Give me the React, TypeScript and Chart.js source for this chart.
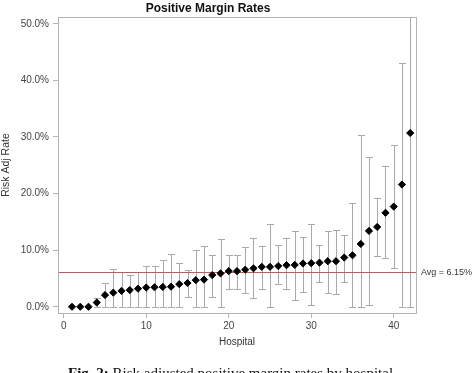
import React, { useEffect, useRef } from 'react';
import { Chart, registerables } from 'chart.js';

Chart.register(...registerables);

// ---- Data (percent) ----
const hospitals = [
  1, 2, 3, 4, 5, 6, 7, 8, 9, 10, 11, 12, 13, 14, 15, 16, 17, 18, 19, 20, 21,
  22, 23, 24, 25, 26, 27, 28, 29, 30, 31, 32, 33, 34, 35, 36, 37, 38, 39, 40, 41, 42,
];
const rates = [
  0, 0, 0, 0.75, 2.07, 2.5, 2.8, 2.95, 3.2, 3.4, 3.45, 3.5, 3.55, 4.0, 4.2, 4.7, 4.8,
  5.6, 5.9, 6.3, 6.3, 6.55, 6.8, 7.05, 7.05, 7.2, 7.35, 7.4, 7.65, 7.7, 7.8, 8.05,
  8.05, 8.7, 9.1, 11.1, 13.4, 14.1, 16.6, 17.7, 21.6, 30.7,
];
const lowerCI = [
  0, 0, 0, 0, 0, 0, 0, 0, 0, 0, 0, 0, 0, 0, 1.65, 0, 0, 1.7, 0, 3.2, 3.2, 2.5, 1.5,
  3.2, 0, 4.1, 3.1, 1.2, 2.6, 0.4, 4.3, 2.5, 2.2, 4.4, 0, 0, 0.4, 9.0, 8.6, 6.8, 0, 0,
];
const upperCI = [
  0, 0, 0, 1.6, 4.2, 6.7, 6.1, 5.7, 6.1, 7.2, 7.2, 8.25, 9.3, 7.8, 6.5, 10.0, 10.8,
  9.1, 12.0, 9.1, 9.1, 10.6, 12.1, 10.7, 14.6, 10.9, 12.1, 13.4, 12.4, 14.7, 10.9,
  13.4, 13.6, 12.7, 18.4, 30.3, 26.4, 19.3, 24.9, 28.6, 43.1, 60,
];
const avgRate = 6.15;
const avgLabel = 'Avg = 6.15%';
const xTicks = [0, 10, 20, 30, 40];
const yTicks = [0, 10, 20, 30, 40, 50];

const FONT = "'Liberation Sans', Arial, sans-serif";

const overlayPlugin = {
  id: 'overlay',
  beforeDatasetsDraw(chart: any) {
    const { ctx, chartArea, scales } = chart;
    const x = scales.x;
    const y = scales.y;
    ctx.save();
    ctx.beginPath();
    ctx.rect(chartArea.left, chartArea.top, chartArea.right - chartArea.left, chartArea.bottom - chartArea.top);
    ctx.clip();
    ctx.strokeStyle = '#a9a9a9';
    ctx.lineWidth = 1;
    hospitals.forEach((h, i) => {
      if (upperCI[i] === lowerCI[i]) return;
      const px = Math.round(x.getPixelForValue(h)) + 0.5;
      const yl = Math.round(y.getPixelForValue(lowerCI[i])) + 0.5;
      const yu = Math.round(y.getPixelForValue(upperCI[i])) + 0.5;
      ctx.beginPath();
      ctx.moveTo(px, yl);
      ctx.lineTo(px, yu);
      ctx.moveTo(px - 3.5, yl);
      ctx.lineTo(px + 3.5, yl);
      ctx.moveTo(px - 3.5, yu);
      ctx.lineTo(px + 3.5, yu);
      ctx.stroke();
    });
    const ya = Math.round(y.getPixelForValue(avgRate)) + 0.5;
    ctx.strokeStyle = '#d4505c';
    ctx.lineWidth = 1.2;
    ctx.beginPath();
    ctx.moveTo(chartArea.left, ya);
    ctx.lineTo(chartArea.right, ya);
    ctx.stroke();
    ctx.restore();

    ctx.save();
    ctx.fillStyle = '#333';
    ctx.font = `9px ${FONT}`;
    ctx.textBaseline = 'middle';
    ctx.textAlign = 'left';
    ctx.fillText(avgLabel, chartArea.right + 5, ya);
    ctx.restore();
  },
  afterDraw(chart: any) {
    const { ctx, chartArea } = chart;
    ctx.save();
    ctx.strokeStyle = '#b4b4b4';
    ctx.lineWidth = 1;
    ctx.strokeRect(
      Math.round(chartArea.left) + 0.5,
      Math.round(chartArea.top) + 0.5,
      Math.round(chartArea.right - chartArea.left),
      Math.round(chartArea.bottom - chartArea.top)
    );
    ctx.restore();
  },
};

export default function App() {
  const ref = useRef<HTMLCanvasElement>(null);
  useEffect(() => {
    if (!ref.current) return;
    const chart = new Chart(ref.current, {
      type: 'scatter',
      data: {
        datasets: [
          {
            data: hospitals.map((h, i) => ({ x: h, y: rates[i] })),
            pointStyle: 'rectRot',
            pointRadius: 3.6,
            backgroundColor: '#000',
            borderColor: '#000',
            borderWidth: 1,
          },
        ],
      },
      options: {
        animation: false,
        responsive: false,
        layout: { padding: { left: 0, right: 58, top: 0, bottom: 0 } },
        plugins: {
          legend: { display: false },
          tooltip: { enabled: false },
          title: {
            display: true,
            text: 'Positive Margin Rates',
            color: '#111',
            font: { family: FONT, size: 12, weight: 'bold' },
            padding: { top: 1, bottom: 1.6 },
          },
        },
        scales: {
          x: {
            type: 'linear',
            min: -0.7,
            max: 42.7,
            afterBuildTicks: (s: any) => {
              s.ticks = xTicks.map((v) => ({ value: v }));
            },
            afterFit: (s: any) => {
              s.height = 60;
            },
            grid: { display: true, drawOnChartArea: false, drawTicks: true, tickLength: 5, color: '#b4b4b4' },
            border: { display: true, color: '#b4b4b4' },
            ticks: { color: '#444', font: { family: FONT, size: 10 }, padding: 2, maxRotation: 0 },
            title: {
              display: true,
              text: 'Hospital',
              color: '#333',
              font: { family: FONT, size: 10 },
              padding: { top: 0, bottom: 25 },
            },
          },
          y: {
            type: 'linear',
            min: -1.1,
            max: 51.2,
            afterBuildTicks: (s: any) => {
              s.ticks = yTicks.map((v) => ({ value: v }));
            },
            afterFit: (s: any) => {
              s.width = 58;
            },
            grid: { display: true, drawOnChartArea: false, drawTicks: true, tickLength: 5, color: '#b4b4b4' },
            border: { display: true, color: '#b4b4b4' },
            ticks: {
              color: '#444',
              font: { family: FONT, size: 10 },
              padding: 4,
              callback: (v: any) => Number(v).toFixed(1) + '%',
            },
            title: {
              display: true,
              text: 'Risk Adj Rate',
              color: '#333',
              font: { family: FONT, size: 10.5 },
              padding: { top: 0, bottom: 0 },
            },
          },
        },
      },
      plugins: [overlayPlugin],
    });
    return () => chart.destroy();
  }, []);

  return (
    <div style={{ position: 'absolute', left: 0, top: 0, width: 474, height: 373, overflow: 'hidden', background: '#fff' }}>
      <canvas ref={ref} width={474} height={373} style={{ display: 'block' }} />
      <div
        style={{
          position: 'absolute',
          left: 68,
          top: 365,
          whiteSpace: 'nowrap',
          fontFamily: "'Liberation Serif', 'Times New Roman', serif",
          fontSize: 15,
          lineHeight: '17px',
          color: '#111',
        }}
      >
        <b>Fig. 2:</b> Risk adjusted positive margin rates by hospital
      </div>
    </div>
  );
}
